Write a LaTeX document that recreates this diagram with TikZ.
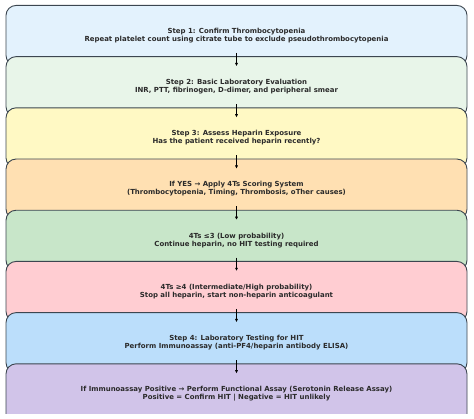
\documentclass[tikz,border=0pt]{standalone}
\usepackage{fontspec}
\setmainfont{DejaVu Sans}
\usetikzlibrary{arrows.meta}
\definecolor{c1}{HTML}{E3F2FD}
\definecolor{c2}{HTML}{E8F5E9}
\definecolor{c3}{HTML}{FFF9C4}
\definecolor{c4}{HTML}{FFE0B2}
\definecolor{c5}{HTML}{C8E6C9}
\definecolor{c6}{HTML}{FFCDD2}
\definecolor{c7}{HTML}{BBDEFB}
\definecolor{c8}{HTML}{D1C4E9}
\definecolor{edgec}{HTML}{3C4650}
\definecolor{txtc}{HTML}{2A2A2A}
\tikzset{
  stepbox/.style={draw=edgec, line width=0.9pt, rounded corners=10pt,
    minimum width=461pt, minimum height=60pt, anchor=north,
    inner sep=0pt, align=center, text=txtc,
    font=\fontsize{6.95pt}{7.9pt}\selectfont\bfseries},
  arr/.style={draw=black, line width=1pt, -{Latex[length=3.2pt,width=3.2pt]}}
}
\begin{document}
\begin{tikzpicture}[x=1pt,y=1pt]
\useasboundingbox (0,0) rectangle (474,-419);
\begin{scope}
\clip (0,0) rectangle (474,-413.5);
\node[stepbox, fill=c1] (b1) at (236.5,-5) {Step 1: Confirm Thrombocytopenia\\Repeat platelet count using citrate tube to exclude pseudothrombocytopenia};
\node[stepbox, fill=c2] (b2) at (236.5,-56.2) {Step 2: Basic Laboratory Evaluation\\INR, PTT, fibrinogen, D-dimer, and peripheral smear};
\node[stepbox, fill=c3] (b3) at (236.5,-107.4) {Step 3: Assess Heparin Exposure\\Has the patient received heparin recently?};
\node[stepbox, fill=c4] (b4) at (236.5,-158.6) {If YES → Apply 4Ts Scoring System\\(Thrombocytopenia, Timing, Thrombosis, oTher causes)};
\node[stepbox, fill=c5] (b5) at (236.5,-209.8) {4Ts ≤3 (Low probability)\\Continue heparin, no HIT testing required};
\node[stepbox, fill=c6] (b6) at (236.5,-261.0) {4Ts ≥4 (Intermediate/High probability)\\Stop all heparin, start non-heparin anticoagulant};
\node[stepbox, fill=c7] (b7) at (236.5,-312.2) {Step 4: Laboratory Testing for HIT\\Perform Immunoassay (anti-PF4/heparin antibody ELISA)};
\node[stepbox, fill=c8] (b8) at (236.5,-363.4) {If Immunoassay Positive → Perform Functional Assay (Serotonin Release Assay)\\Positive = Confirm HIT | Negative = HIT unlikely};
\end{scope}
\foreach \a/\b in {b1/b2,b2/b3,b3/b4,b4/b5,b5/b6,b6/b7,b7/b8}{
  \draw[arr] ([yshift=13pt]\a.south) -- ([yshift=-10pt]\b.north);
}
\end{tikzpicture}
\end{document}
